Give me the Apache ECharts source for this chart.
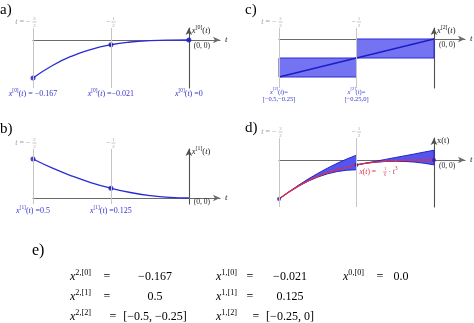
<!DOCTYPE html>
<html><head><meta charset="utf-8">
<script src="https://cdn.jsdelivr.net/npm/echarts@6/dist/echarts.min.js"></script>
<style>html,body{margin:0;padding:0;background:#fff}#c{width:474px;height:323px}</style>
</head><body><div id="c"></div><script>
// ---------------- data ----------------
const tMarks = [-1, -0.5, 0];
const tSamples = [-1, -0.875, -0.75, -0.625, -0.5, -0.375, -0.25, -0.125, 0];
const x0Curve = [-0.1667, -0.1117, -0.0703, -0.0407, -0.0208, -0.0088, -0.0026, -0.0003, 0];
const x1Curve = [0.5, 0.3828, 0.2813, 0.1953, 0.125, 0.0703, 0.0313, 0.0078, 0];
const x0Points = [-0.167, -0.021, 0];
const x1Points = [0.5, 0.125];
const x2LineT = [-1, 0];
const x2LineValues = [-0.5, 0];
const x2IntervalT = [[-1, -0.5], [-0.5, 0]];
const x2Intervals = [[-0.5, -0.25], [-0.25, 0]];
const band1T = [-1, -0.9375, -0.875, -0.8125, -0.75, -0.6875, -0.625, -0.5625, -0.5];
const band1Upper = [-0.1667, -0.1364, -0.1081, -0.0817, -0.0573, -0.0348, -0.0143, 0.0042, 0.0208];
const band1Lower = [-0.1667, -0.1374, -0.1120, -0.0905, -0.0729, -0.0592, -0.0495, -0.0436, -0.0417];
const band2T = [-0.5, -0.4375, -0.375, -0.3125, -0.25, -0.1875, -0.125, -0.0625, 0];
const band2Upper = [-0.0208, -0.0130, -0.0052, 0.0026, 0.0104, 0.0182, 0.0260, 0.0339, 0.0417];
const band2Lower = [-0.0208, -0.0140, -0.0091, -0.0062, -0.0052, -0.0062, -0.0091, -0.0140, -0.0208];
const tableOrders = [2, 1, 0];
const tableValues = [['−0.167', '0.5', '[−0.5, −0.25]'], ['−0.021', '0.125', '[−0.25, 0]'], ['0.0']];

// ---------------- layout ----------------
const SERIF = '"Liberation Serif","DejaVu Serif",serif';
const BLUE = '#2a2ad8', BLUE_TXT = '#3535d0', GREY_TXT = '#9e9e9e', RED = '#dc3048';
const panels = [
  { grid: { left: 33, top: 28, width: 187, height: 60 }, y: [-0.2105, 0.0526] },
  { grid: { left: 33, top: 149, width: 187, height: 55 }, y: [-0.077, 0.628] },
  { grid: { left: 279, top: 28, width: 186, height: 60 }, y: [-0.6447, 0.1447] },
  { grid: { left: 279, top: 138, width: 186, height: 69 }, y: [-0.2009, 0.094] }
];
const fmt = v => (v < 0 ? '−' : '') + String(Math.abs(v));
const pairs = (ts, vs) => ts.map((t, i) => [t, vs[i]]);

const chart = echarts.init(document.getElementById('c'), null, { renderer: 'canvas' });

const grids = panels.map(p => Object.assign({ containLabel: false }, p.grid));
const xAxes = panels.map((p, i) => ({
  type: 'value', gridIndex: i, min: -1, max: 0.2,
  axisLine: { onZero: true, symbol: ['none', 'arrow'], symbolSize: [5, 7], lineStyle: { color: '#6a6a6a', width: 1.2 } },
  axisTick: { show: false }, axisLabel: { show: false }, splitLine: { show: false }
}));
const yAxes = panels.map((p, i) => ({
  type: 'value', gridIndex: i, min: p.y[0], max: p.y[1],
  axisLine: { onZero: true, symbol: ['none', 'arrow'], symbolSize: [5, 7], lineStyle: { color: '#505050', width: 1.1 } },
  axisTick: { show: false }, axisLabel: { show: false }, splitLine: { show: false }
}));
const vmark = {
  silent: true, symbol: ['none', 'none'], label: { show: false },
  lineStyle: { color: '#c6c6c6', type: 'solid', width: 1 },
  data: [{ xAxis: tMarks[0] }, { xAxis: tMarks[1] }]
};
const bands = [
  { t: band1T, up: band1Upper, lo: band1Lower },
  { t: band2T, up: band2Upper, lo: band2Lower }
];
const series = [
  // panel a
  { type: 'line', xAxisIndex: 0, yAxisIndex: 0, data: pairs(tSamples, x0Curve), smooth: true, showSymbol: false,
    lineStyle: { color: BLUE, width: 1.3 }, markLine: vmark, z: 3 },
  { type: 'scatter', xAxisIndex: 0, yAxisIndex: 0, data: pairs(tMarks, x0Points), symbolSize: 5, itemStyle: { color: '#1818c0' }, z: 4 },
  // panel b
  { type: 'line', xAxisIndex: 1, yAxisIndex: 1, data: pairs(tSamples, x1Curve), smooth: true, showSymbol: false,
    lineStyle: { color: BLUE, width: 1.3 }, markLine: vmark, z: 3 },
  { type: 'scatter', xAxisIndex: 1, yAxisIndex: 1, data: pairs(tMarks.slice(0, 2), x1Points), symbolSize: 5, itemStyle: { color: '#1818c0' }, z: 4 },
  // panel c
  { type: 'custom', xAxisIndex: 2, yAxisIndex: 2, clip: false,
    data: x2IntervalT.map((tt, i) => [tt[0], tt[1], x2Intervals[i][0], x2Intervals[i][1]]),
    markLine: vmark,
    renderItem: (params, api) => {
      const a = api.coord([api.value(0), api.value(3)]);
      const b = api.coord([api.value(1), api.value(2)]);
      return { type: 'rect', shape: { x: a[0], y: a[1], width: b[0] - a[0], height: b[1] - a[1] },
        style: { fill: '#7474f2', stroke: '#2c2cd2', lineWidth: 1 } };
    }, z: 2 },
  { type: 'line', xAxisIndex: 2, yAxisIndex: 2, data: pairs(x2LineT, x2LineValues), showSymbol: false,
    lineStyle: { color: '#1c1cc8', width: 1.4 }, z: 3 },
  // panel d
  { type: 'custom', xAxisIndex: 3, yAxisIndex: 3, clip: false,
    data: [[-1, 0, 0], [-0.5, 0, 1]], markLine: vmark,
    renderItem: (params, api) => {
      const B = bands[api.value(2)];
      const top = B.t.map((t, i) => api.coord([t, B.up[i]]));
      const bot = B.t.map((t, i) => api.coord([t, B.lo[i]])).reverse();
      return { type: 'polygon', shape: { points: top.concat(bot) },
        style: { fill: '#5454ef', stroke: '#2424cc', lineWidth: 1 } };
    }, z: 2 },
  { type: 'line', xAxisIndex: 3, yAxisIndex: 3, data: pairs(tSamples, x0Curve), smooth: true, showSymbol: false,
    lineStyle: { color: RED, width: 1.3 }, z: 3 },
  { type: 'scatter', xAxisIndex: 3, yAxisIndex: 3, data: pairs(tMarks, x0Points), symbolSize: 4, itemStyle: { color: '#3a1a96' }, z: 4 }
];

chart.setOption({ animation: false, backgroundColor: '#fff', grid: grids, xAxis: xAxes, yAxis: yAxes, series });

// ---------------- text ----------------
const G = [];
function rich(size) {
  const s = Math.max(4, Math.round(size * 0.68 * 10) / 10);
  return {
    i: { fontFamily: SERIF, fontStyle: 'italic', fontSize: size, lineHeight: size + 4 },
    n: { fontFamily: SERIF, fontSize: size, lineHeight: size + 4 },
    s: { fontFamily: SERIF, fontSize: s, lineHeight: s + 1, verticalAlign: 'top' }
  };
}
function T(x, y, text, size, o) {
  o = o || {};
  G.push({ type: 'text', x: x, y: y, silent: true, z: 100,
    style: { text: text, fill: o.color || '#000', fontFamily: SERIF, fontSize: size,
      fontStyle: o.italic ? 'italic' : 'normal', align: o.align || 'left', textAlign: o.align || 'left',
      verticalAlign: 'middle', textVerticalAlign: 'middle', rich: rich(size) } });
}
function frac(cx, cy, num, den, size, color) {
  T(cx, cy - size * 0.62, num, size, { align: 'center', color });
  T(cx, cy + size * 0.72, den, size, { align: 'center', color });
  G.push({ type: 'line', silent: true, z: 100, shape: { x1: cx - size * 0.4, y1: cy, x2: cx + size * 0.4, y2: cy },
    style: { stroke: color, lineWidth: 0.6 } });
}
const P = (g, t, v) => chart.convertToPixel({ xAxisIndex: g, yAxisIndex: g }, [t, v]);

const yNames = ['{i|x}{s|[0]}{n|(}{i|t}{n|)}', '{i|x}{s|[1]}{n|(}{i|t}{n|)}', '{i|x}{s|[2]}{n|(}{i|t}{n|)}', '{n|x(t)}'];
panels.forEach((p, g) => {
  const top = P(g, -1, p.y[1])[1];
  const axisY = P(g, 0, 0)[1];
  const x0 = P(g, 0, 0)[0], xm1 = P(g, -1, 0)[0], xh = P(g, -0.5, 0)[0], xEnd = P(g, 0.2, 0)[0];
  const ty = top - 6;
  T(xm1 - 2.5, ty, '{i|t}{n| = −}', 8, { align: 'right', color: GREY_TXT });
  frac(xm1 + 1.5, ty, '2', '2', 5, GREY_TXT);
  T(xh - 0.5, ty, '−', 8, { align: 'right', color: GREY_TXT });
  frac(xh + 2.5, ty, '1', '2', 5, GREY_TXT);
  T(xEnd + 5, axisY, 't', 9, { italic: true, color: '#222' });
  T(x0 + 3, top + 3, yNames[g], 8.5, { color: '#222' });
  T(x0 + 5, axisY + (g === 1 ? 4 : 6.5), '(0, 0)', 7.5, { color: '#222' });
});
// panel bottom labels
(function () {
  const yA = P(0, 0, panels[0].y[0])[1] + 6;
  const eqs = [' = ', ' =', ' ='];
  tMarks.forEach((t, i) => {
    T(P(0, t, 0)[0], yA, '{i|x}{s|[0]}{n|(}{i|t}{n|)' + eqs[i] + fmt(x0Points[i]) + '}', 8, { align: 'center', color: BLUE_TXT });
  });
  const yB = P(1, 0, 0)[1] + 13;
  x1Points.forEach((v, i) => {
    T(P(1, tMarks[i], 0)[0], yB, '{i|x}{s|[1]}{n|(}{i|t}{n|) =' + fmt(v) + '}', 8, { align: 'center', color: BLUE_TXT });
  });
  const yC = P(2, 0, panels[2].y[0])[1] + 4;
  x2Intervals.forEach((iv, i) => {
    const cx = P(2, tMarks[i], 0)[0];
    T(cx, yC, '{i|x}{s|[2]}{n|(}{i|t}{n|)=}', 6.5, { align: 'center', color: BLUE_TXT });
    T(cx, yC + 7.5, '[' + fmt(iv[0]) + ',' + fmt(iv[1]) + ']', 6.5, { align: 'center', color: BLUE_TXT });
  });
  // red label in panel d
  const r = P(3, -0.5, 0);
  const ry = r[1] + 12;
  T(r[0] + 3, ry, '{i|x}{n|(}{i|t}{n|) =}', 7.5, { color: RED });
  frac(r[0] + 28.5, ry, '1', '6', 4.5, RED);
  T(r[0] + 32, ry, '{n|· }{i|t}{s|3}', 7.5, { color: RED });
})();
// panel letters
T(0, 10, 'a)', 15); T(245, 10, 'c)', 15); T(0, 129, 'b)', 15); T(245, 128, 'd)', 15);
T(32, 251, 'e)', 16);
// table e
const rowY = [277, 297, 317];
const nameX = [70, 216, 343];
const eqX = [[107, 107, 113], [250, 250, 256], [380]];
const valX = [155, 290, 401];
tableValues.forEach((col, c) => {
  col.forEach((v, r) => {
    T(nameX[c], rowY[r], '{i|x}{s|' + tableOrders[c] + ',[' + r + ']}', 12);
    T(eqX[c][r], rowY[r], '=', 12, { align: 'center' });
    T(valX[c], rowY[r], v, 12, { align: 'center' });
  });
});
chart.setOption({ graphic: { elements: G } });
</script></body></html>
